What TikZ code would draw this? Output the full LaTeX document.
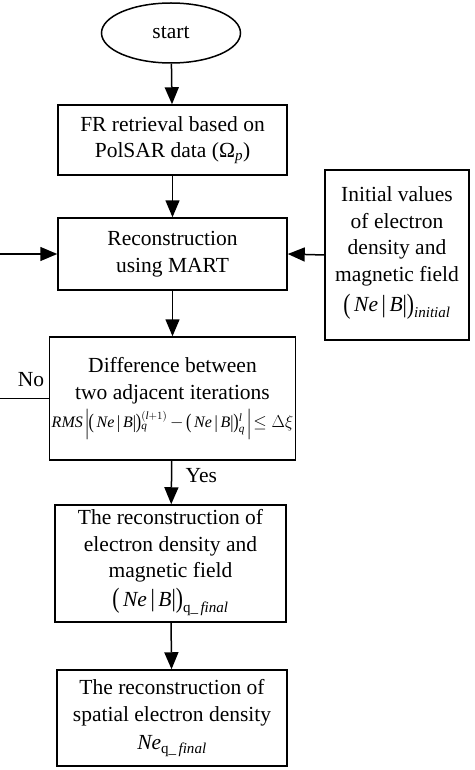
\documentclass[tikz,border=0pt]{standalone}
\usepackage{amsmath}
\usepackage{fontspec}
\setmainfont{Liberation Serif}
\usetikzlibrary{arrows.meta,shapes.geometric}
\newcommand\tall[3]{\raisebox{#2}{\scalebox{1}[#1]{#3}}}
\newcommand\NeB{\tall{1.3}{-0.075em}{(}\,\textit{Ne}\,\tall{1.15}{-0.04em}{|}\,\textit{B}\tall{1.15}{-0.04em}{|}\tall{1.3}{-0.075em}{)}}
\newcommand\NeBsub[2]{\NeB$\vphantom{\text{\tall{1.7}{-0.175em}{(}}}^{#1}_{#2}$}
\begin{document}
\begin{tikzpicture}[x=1pt,y=-1pt,
		font=\fontsize{21.5}{26.5}\selectfont,
		box/.style={draw,line width=1.5pt,align=center,minimum width=229pt,inner sep=2pt},
		flow/.style={line width=1.5pt,-{Triangle[length=17pt,width=14pt]}}]
	\useasboundingbox (0,0) rectangle (474,770);
	% boxes
	\node[draw,ellipse,line width=1.5pt,minimum width=139pt,minimum height=60pt] (S) at (171,33) {start};
	\node[box,minimum height=70pt] (F) at (172.5,140) {FR retrieval based on\\PolSAR data (Ω\textsubscript{\textit{p}})};
	\node[box,minimum height=72pt] (M) at (172.5,254) {Reconstruction\\using MART};
	\node[box,minimum width=144pt,minimum height=170pt] (I) at (397,255) {Initial values\\of electron\\density and\\magnetic field\\[4pt]\NeBsub{}{\textit{initial}}};
	\node[box,minimum height=123pt] (D) at (172.5,398.5) {Difference between\\two adjacent iterations\\[2pt]
		{\fontsize{16}{18}\selectfont\textit{RMS}\,\tall{2.1}{-0.275em}{|}\NeBsub{(\textit{l}+1)}{\textit{q}}\,$-$\,\NeBsub{\textit{l}}{\textit{q}}\,\tall{2.1}{-0.275em}{|}\,$\le\Delta\xi$}};
	\node[box,minimum width=231pt,minimum height=117pt] (R) at (170.5,563.5) {The reconstruction of\\electron density and\\magnetic field\\[2pt]\NeBsub{}{\text{q\_}\,\textit{final}}};
	\node[box,minimum width=230pt,minimum height=96pt] (E) at (172,718) {The reconstruction of\\spatial electron density\\[2pt]\textit{Ne}$_{\text{q\_}\,\textit{final}}$};
	% connectors
	\draw[flow] (S) -- (F);
	\draw[flow] (F) -- (M);
	\draw[flow] (M) -- (D);
	\draw[flow] (D) -- (R) node[pos=0.35,right=10pt] (Y) {Yes};
	\draw[flow] (R) -- (E);
	\draw[flow] (I.west) -- (M.east);
	\draw[flow] (D.west) -- ++(-52,0) |- (M.west);
	\node (N) at (31,380) {No};
\end{tikzpicture}
\end{document}
